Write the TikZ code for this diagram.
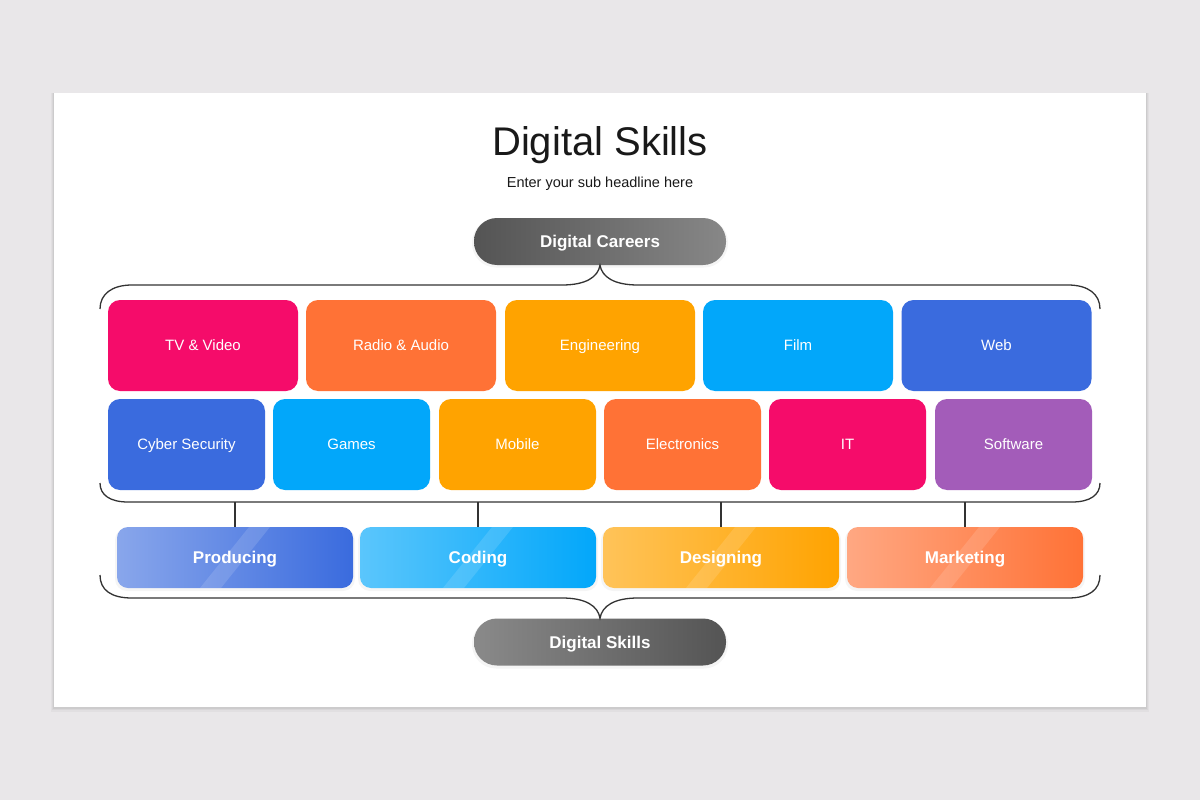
\documentclass[tikz,border=0pt]{standalone}
\usepackage{fontspec}
\setmainfont{Liberation Sans}
\definecolor{bgc}{HTML}{E9E7E9}
\definecolor{cpink}{HTML}{F50C6A}
\definecolor{corange}{HTML}{FF7236}
\definecolor{camber}{HTML}{FFA300}
\definecolor{csky}{HTML}{02A7FA}
\definecolor{cblue}{HTML}{3A6BDE}
\definecolor{cpurple}{HTML}{A35CB9}
\definecolor{linec}{HTML}{333333}
\tikzset{
  tile/.style={rounded corners=12pt, minimum height=91pt, inner sep=0pt, text=white,
    font=\fontsize{15}{18}\selectfont, text height=10.8pt, text depth=0pt},
  wide/.style={tile, minimum width=190pt},
  narrow/.style={tile, minimum width=157pt},
  skill/.style={rounded corners=11pt, minimum width=236pt, minimum height=61pt, inner sep=0pt,
    text=white, font=\bfseries\fontsize{17}{20}\selectfont, text height=12.2pt, text depth=0pt,
    path picture={\fill[white,opacity=0.13,sharp corners]
      ([xshift=83pt]path picture bounding box.south west) --
      ([xshift=104pt]path picture bounding box.south west) --
      ([xshift=153pt]path picture bounding box.north west) --
      ([xshift=132pt]path picture bounding box.north west) -- cycle;}},
  pill/.style={rounded corners=23pt, minimum width=252pt, minimum height=47pt, inner sep=0pt,
    text=white, font=\bfseries\fontsize{17}{20}\selectfont, text height=12.2pt, text depth=0pt},
  brace/.style={draw=linec, line width=1.3pt},
  link/.style={draw=linec, line width=1.3pt}
}
\begin{document}
\begin{tikzpicture}[x=1pt,y=-1pt]
\useasboundingbox (0,0) rectangle (1200,800);
\fill[bgc] (0,0) rectangle (1200,800);
% card with faint shadow
\fill[black, opacity=0.03] (51,93) rectangle (1149,712);
\fill[black, opacity=0.04] (52,93) rectangle (1148,710);
\fill[black, opacity=0.05] (53,93) rectangle (1147,708.5);
\fill[white] (54,93) rectangle (1146,707);

\node[font=\fontsize{40}{46}\selectfont, text=black!90, text height=28.7pt, text depth=0pt, inner sep=0pt] (title) at (600,141) {Digital Skills};
\node[font=\fontsize{14.5}{17}\selectfont, text=black!90, text height=10.4pt, text depth=0pt, inner sep=0pt] (sub) at (600,182) {Enter your sub headline here};

% faint shadows under pills and skills
\foreach \cx/\cy/\w/\h/\r in {600/243/256/49/24, 600/644/256/49/24, 235/559.5/240/63/12, 478/559.5/240/63/12, 721/559.5/240/63/12, 965/559.5/240/63/12}
  \fill[black, opacity=0.04, rounded corners=\r pt] (\cx-\w/2,\cy-\h/2) rectangle (\cx+\w/2,\cy+\h/2);

\node[pill, left color=black!67, right color=black!47] (dc) at (600,241.5) {Digital Careers};
\node[pill, left color=black!46, right color=black!67] (ds) at (600,642) {Digital Skills};

% row 1
\node[wide, fill=cpink] (tv) at (203,345.5) {TV \& Video};
\node[wide, fill=corange] (radio) at (401,345.5) {Radio \& Audio};
\node[wide, fill=camber] (eng) at (600,345.5) {Engineering};
\node[wide, fill=csky] (film) at (798,345.5) {Film};
\node[wide, fill=cblue] (web) at (996.5,345.5) {Web};

% row 2
\node[narrow, fill=cblue] (cyber) at (186.5,444.5) {Cyber Security};
\node[narrow, fill=csky] (games) at (351.5,444.5) {Games};
\node[narrow, fill=camber] (mobile) at (517.5,444.5) {Mobile};
\node[narrow, fill=corange] (elec) at (682.5,444.5) {Electronics};
\node[narrow, fill=cpink] (it) at (847.5,444.5) {IT};
\node[narrow, fill=cpurple] (soft) at (1013.5,444.5) {Software};

% row 3
\node[skill, left color=cblue!60!white, right color=cblue] (prod) at (235,557.5) {Producing};
\node[skill, left color=csky!65!white, right color=csky] (cod) at (478,557.5) {Coding};
\node[skill, left color=camber!65!white, right color=camber] (des) at (721,557.5) {Designing};
\node[skill, left color=corange!62!white, right color=corange] (mark) at (965,557.5) {Marketing};

% top brace
\path[brace] (100,309) .. controls (100,294) and (112,285) .. (132,285) -- (562,285)
  .. controls (586,285) and (598,277) .. (dc.south)
  .. controls (602,277) and (614,285) .. (638,285) -- (1068,285)
  .. controls (1088,285) and (1100,294) .. (1100,309);

% middle bracket
\path[brace] (100,483) .. controls (100,495) and (110,502) .. (128,502) -- (1072,502)
  .. controls (1090,502) and (1100,495) .. (1100,483);

\coordinate (c1) at (235,502);
\coordinate (c2) at (478,502);
\coordinate (c3) at (721,502);
\coordinate (c4) at (965,502);
\path[link] (c1) -- (prod.north);
\path[link] (c2) -- (cod.north);
\path[link] (c3) -- (des.north);
\path[link] (c4) -- (mark.north);

% bottom brace
\path[brace] (100,575) .. controls (100,590) and (111,598) .. (132,598) -- (562,598)
  .. controls (586,598) and (598,606) .. (ds.north)
  .. controls (602,606) and (614,598) .. (638,598) -- (1068,598)
  .. controls (1089,598) and (1100,590) .. (1100,575);
\end{tikzpicture}
\end{document}
